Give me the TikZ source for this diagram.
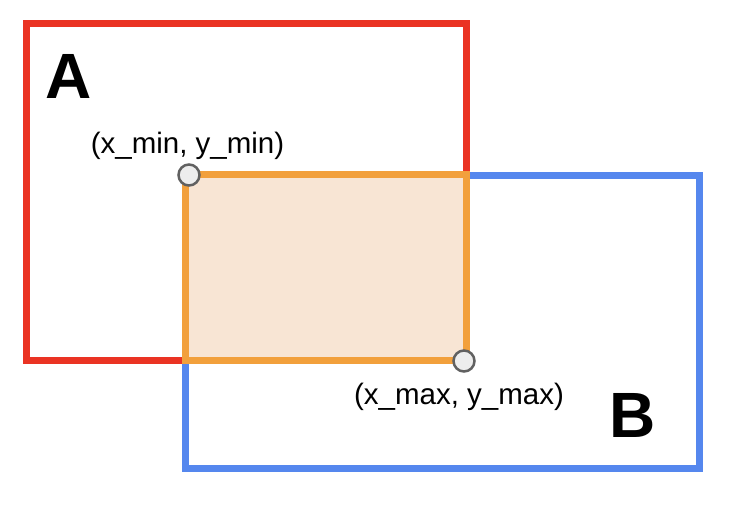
\documentclass[tikz,border=0pt]{standalone}
\usepackage{fontspec}
\setmainfont{Liberation Sans}
\usepackage{tikz}

\definecolor{boxA}{RGB}{234,51,35}
\definecolor{boxB}{RGB}{85,135,238}
\definecolor{overlap}{RGB}{242,160,60}
\definecolor{overlapfill}{RGB}{248,229,212}

\begin{document}
\begin{tikzpicture}[x=1pt,y=-1pt,
    frame/.style={line width=7pt},
    corner/.style={circle, draw=black!62, fill=black!7, line width=2.5pt, minimum size=21pt, inner sep=0pt},
    boxname/.style={font=\bfseries\fontsize{64}{64}\selectfont, inner sep=0pt, anchor=base},
    cornerlabel/.style={font=\fontsize{29.5}{29.5}\selectfont, inner sep=0pt}]
        \useasboundingbox (0, 0) rectangle (754, 524);
        % the two boxes and their overlap
        \draw[frame, boxA] (26.5, 23.5) rectangle (466, 360);
        \draw[frame, boxB] (185.5, 175) rectangle (699, 468.5);
        \draw[frame, overlap, fill=overlapfill] (185.5, 174) rectangle (466, 360.5);
        %
        \node[corner] (topleft) at (189, 175) {};
        \node[corner] (bottomright) at (464, 361) {};
        \node[cornerlabel] (minlabel) at (187.5, 146) {(x\_min, y\_min)};
        \node[cornerlabel] (maxlabel) at (459, 396.5) {(x\_max, y\_max)};
        \node[boxname] (nameA) at (68.7, 99) {A};
        \node[boxname] (nameB) at (633, 437) {B};
\end{tikzpicture}
\end{document}
